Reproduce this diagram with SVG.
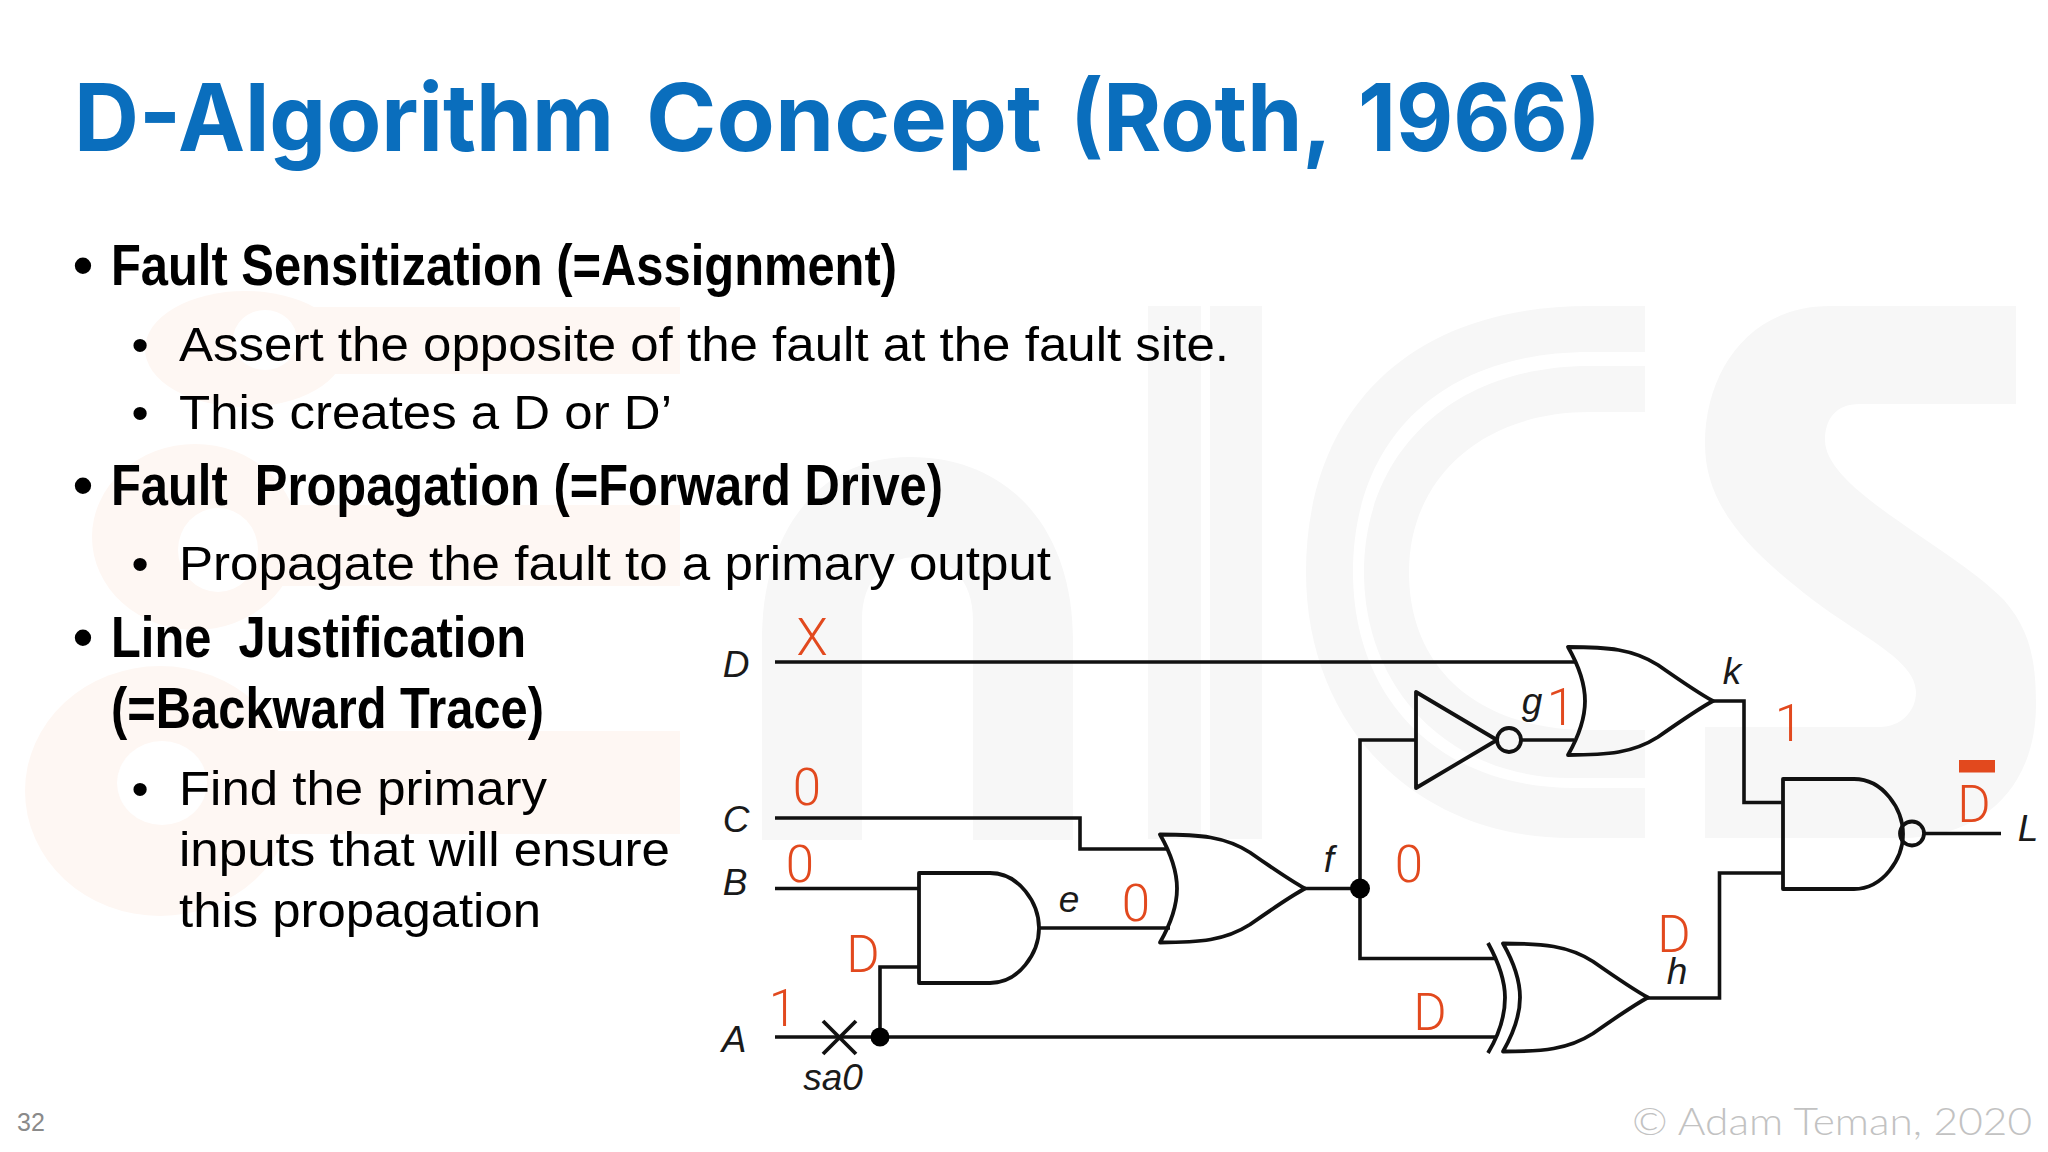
<svg xmlns="http://www.w3.org/2000/svg" xmlns:xlink="http://www.w3.org/1999/xlink" width="2048" height="1152" viewBox="0 0 2048 1152">
<style>
.wg{fill:#f7f7f7}
.wo{fill:#fef7f3}
.ww{fill:#fff}
.w{fill:none;stroke:#111;stroke-width:3.6;stroke-linejoin:miter}
.g{fill:none;stroke:#111;stroke-width:3.8;stroke-linejoin:round}
.dot{fill:#000}
.t1{font-family:"Liberation Sans",Arial,sans-serif;font-weight:700;font-size:57px;fill:#000}
.t2{font-family:"Liberation Sans",Arial,sans-serif;font-size:49px;fill:#000}
.r{font-family:Roboto,"Noto Sans",sans-serif;font-weight:300;font-size:51px;fill:#e2491e;text-anchor:middle}
.n{font-family:"Liberation Sans",Arial,sans-serif;font-style:italic;font-size:37px;fill:#1a1a1a;text-anchor:middle}
</style>
<defs>
<path id="or" d="M0 -54 C40 -54 65 -52 90 -36 C110 -22 130 -8 145 0 C130 8 110 22 90 36 C65 52 40 54 0 54 C12 33 17 15 17 0 C17 -15 12 -33 0 -54 Z"/>
<path id="and" d="M0 -55 H71 C100 -55 120 -25 120 0 C120 25 100 55 71 55 H0 Z"/>
</defs>
<rect width="2048" height="1152" fill="#fff"/>
<g id="watermark">
<ellipse class="wo" cx="245" cy="349" rx="100" ry="58"/><rect class="wo" x="290" y="307" width="390" height="67"/><ellipse class="ww" cx="265" cy="340" rx="32" ry="30"/>
<ellipse class="wo" cx="195" cy="537" rx="103" ry="93"/><rect class="wo" x="255" y="505" width="425" height="81"/><ellipse class="ww" cx="218" cy="550" rx="40" ry="42"/>
<ellipse class="wo" cx="160" cy="791" rx="135" ry="125"/><rect class="wo" x="205" y="731" width="475" height="103"/><ellipse class="ww" cx="162" cy="783" rx="45" ry="42"/>
<path class="wg" d="M762 840 V640 C762 530 820 457 910 457 C1010 457 1073 530 1073 640 V840 H973 V620 C973 580 950 557 917 557 C885 557 862 580 862 620 V840 Z"/>
<rect class="wg" x="1148" y="306" width="53" height="533"/>
<rect class="wg" x="1210" y="306" width="52" height="533"/>
<path class="wg" d="M1645 306 H1590 C1400 306 1306 420 1306 572 C1306 730 1420 838 1570 838 H1645 V788 H1575 C1440 788 1353 700 1353 572 C1353 440 1440 352 1590 352 H1645 Z"/>
<path class="wg" d="M1645 366 H1590 C1450 366 1364 455 1364 572 C1364 690 1450 778 1570 778 H1645 V730 H1590 C1480 730 1409 670 1409 572 C1409 480 1480 412 1590 412 H1645 Z"/>
<path class="wg" d="M2016 306 H1830 C1750 306 1705 370 1705 444 C1705 510 1755 555 1813 600 C1860 636 1916 660 1916 692 C1916 712 1900 727 1880 727 H1705 V838 H1900 C1990 838 2036 780 2036 705 C2036 660 2030 630 2004 600 C1950 545 1825 490 1825 440 C1825 420 1835 404 1860 404 H2016 Z"/>
</g>
<text id="title" y="151" font-family="Inter,'Noto Sans',sans-serif" font-weight="700" font-size="93" fill="#0a6ebd"><tspan x="74" textLength="540" lengthAdjust="spacingAndGlyphs">D-Algorithm</tspan> <tspan x="646" textLength="396" lengthAdjust="spacingAndGlyphs">Concept</tspan> <tspan x="1070" textLength="259" lengthAdjust="spacingAndGlyphs">(Roth,</tspan> <tspan x="1358" textLength="243" lengthAdjust="spacingAndGlyphs">1966)</tspan></text>
<g id="bullets">
<text class="t1" x="83" y="285" text-anchor="middle">•</text>
<text class="t1" x="111" y="285" textLength="786" lengthAdjust="spacingAndGlyphs">Fault Sensitization (=Assignment)</text>
<text class="t2" x="140" y="361" text-anchor="middle">•</text>
<text class="t2" x="179" y="361" textLength="1050" lengthAdjust="spacingAndGlyphs">Assert the opposite of the fault at the fault site.</text>
<text class="t2" x="140" y="429" text-anchor="middle">•</text>
<text class="t2" x="179" y="429" textLength="493" lengthAdjust="spacingAndGlyphs">This creates a D or D’</text>
<text class="t1" x="83" y="505" text-anchor="middle">•</text>
<text class="t1" x="111" y="505" textLength="832" lengthAdjust="spacingAndGlyphs" xml:space="preserve">Fault  Propagation (=Forward Drive)</text>
<text class="t2" x="140" y="580" text-anchor="middle">•</text>
<text class="t2" x="179" y="580" textLength="872" lengthAdjust="spacingAndGlyphs">Propagate the fault to a primary output</text>
<text class="t1" x="83" y="657" text-anchor="middle">•</text>
<text class="t1" x="111" y="657" textLength="415" lengthAdjust="spacingAndGlyphs" xml:space="preserve">Line  Justification</text>
<text class="t1" x="111" y="728" textLength="433" lengthAdjust="spacingAndGlyphs">(=Backward Trace)</text>
<text class="t2" x="140" y="805" text-anchor="middle">•</text>
<text class="t2" x="179" y="805" textLength="368" lengthAdjust="spacingAndGlyphs">Find the primary</text>
<text class="t2" x="179" y="866" textLength="491" lengthAdjust="spacingAndGlyphs">inputs that will ensure</text>
<text class="t2" x="179" y="927" textLength="362" lengthAdjust="spacingAndGlyphs">this propagation</text>
</g>
<g id="connectors">
<path class="w" stroke-width="4" d="M775 662 H1575"/>
<path class="w" d="M775 818 H1080 V849 H1168"/>
<path class="w" d="M775 888.5 H919"/>
<path class="w" d="M1039 928 H1170"/>
<path class="w" d="M775 1037 H1495"/>
<path class="w" d="M880 1037 V967 H919"/>
<path class="w" d="M1305 888.5 H1361"/>
<path class="w" d="M1416 740 H1360 V958.5 H1495"/>
<path class="w" d="M1521 740 H1574"/>
<path class="w" d="M1711 701 H1744 V802.5 H1783"/>
<path class="w" d="M1647 998 H1719.5 V873 H1783"/>
<path class="w" d="M1924 833.5 H2001"/>
</g>
<g id="gate-and"><use class="g" href="#and" x="919" y="928"/></g>
<g id="gate-or-f"><use class="g" href="#or" x="1160" y="888.5"/></g>
<g id="gate-not"><path class="g" d="M1416 692 V788 L1497 740 Z"/><circle class="g" cx="1509" cy="740" r="12"/></g>
<g id="gate-or-k"><use class="g" href="#or" x="1568" y="701"/></g>
<g id="gate-xor"><use class="g" href="#or" x="1503" y="997.5"/><path class="g" d="M1488 943 C1500 965 1505 982 1505 997.5 C1505 1013 1500 1033 1488 1053"/></g>
<g id="gate-nand"><use class="g" href="#and" x="1783" y="834"/><circle class="g" cx="1912" cy="833.5" r="12"/></g>
<g id="junctions">
<circle class="dot" cx="880" cy="1037" r="9.5"/>
<circle class="dot" cx="1360" cy="888.5" r="10"/>
</g>
<g id="fault"><path fill="none" stroke="#111" stroke-width="3.8" d="M823 1021 L856 1054 M856 1021 L823 1054"/></g>
<g id="net-labels">
<text class="n" x="736" y="677">D</text>
<text class="n" x="736" y="832">C</text>
<text class="n" x="735" y="895">B</text>
<text class="n" x="734" y="1052">A</text>
<text class="n" x="833" y="1090">sa0</text>
<text class="n" x="1069" y="912">e</text>
<text class="n" x="1329" y="872">f</text>
<text class="n" x="1532" y="714">g</text>
<text class="n" x="1732" y="684">k</text>
<text class="n" x="1677" y="984">h</text>
<text class="n" x="2028" y="841">L</text>
</g>
<g id="values">
<text class="r" x="812" y="655">X</text>
<text class="r" x="807" y="805">0</text>
<text class="r" x="800" y="882">0</text>
<text class="r" x="863" y="972">D</text>
<text class="r" x="783" y="1026">1</text>
<text class="r" x="1136" y="921">0</text>
<text class="r" x="1409" y="882">0</text>
<text class="r" x="1561" y="725">1</text>
<text class="r" x="1789" y="741">1</text>
<text class="r" x="1674" y="952">D</text>
<text class="r" x="1430" y="1030">D</text>
<text class="r" x="1974" y="822">D</text>
<rect x="1959" y="760" width="36" height="12.5" fill="#e2491e"/>
</g>
<text id="page-number" x="17" y="1131" font-family="'Liberation Sans',Arial,sans-serif" font-size="25" fill="#8a8a8a">32</text>
<text id="copyright" x="1632" y="1135" font-family="Lato,'Noto Sans',sans-serif" font-weight="300" font-size="37" fill="#c2c2c2" textLength="400" lengthAdjust="spacingAndGlyphs">© Adam Teman, 2020</text>
</svg>
